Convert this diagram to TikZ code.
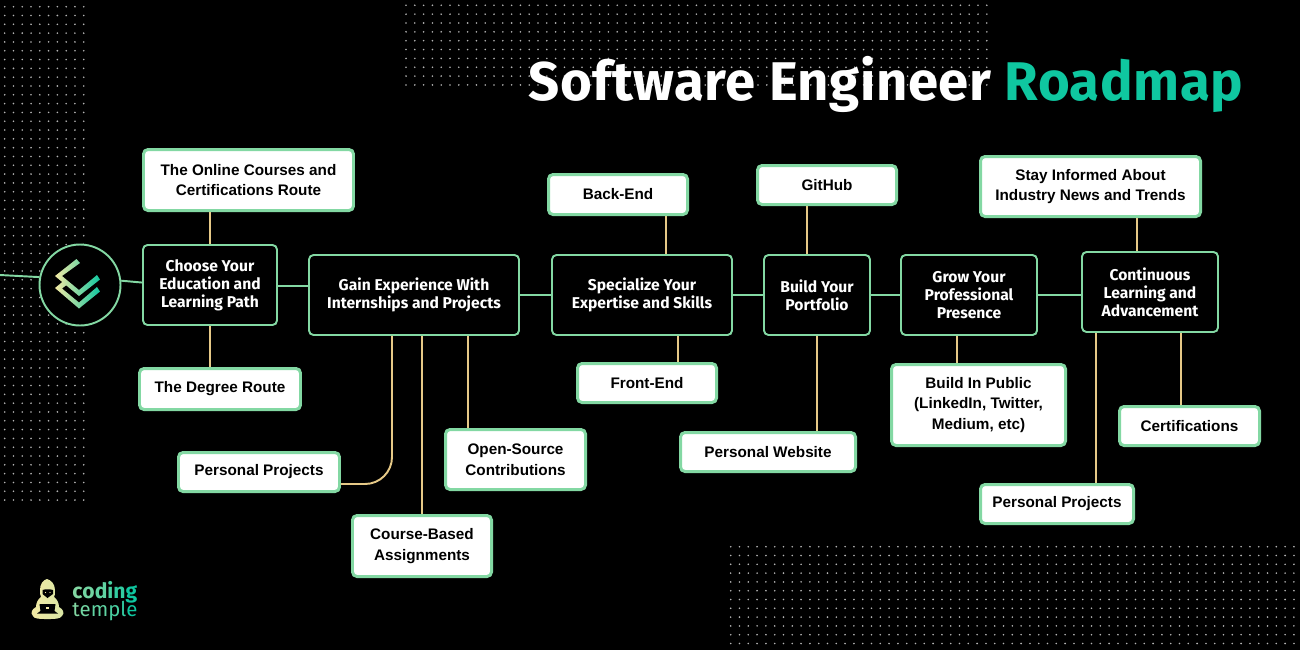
\documentclass[tikz,border=0pt]{standalone}
\usepackage{fontspec}
\setmainfont{Liberation Sans}
\newfontfamily\ubfont{Fira Sans}
\newfontfamily\titlefont[LetterSpace=1.0]{Fira Sans}
\definecolor{nodegreen}{HTML}{83D8A3}
\definecolor{linegold}{HTML}{E6C987}
\definecolor{roadteal}{HTML}{0FC7A0}
\definecolor{logoyel}{HTML}{F4EAA4}
\definecolor{griddot}{HTML}{B4B4B4}
\tikzset{
	whitebox/.style 2 args={draw=nodegreen,line width=1.7pt,fill=white,text=black,rounded corners=0.09cm,align=center,inner sep=0pt,font=\fontsize{8.7}{11.9}\selectfont\bfseries,minimum width=#1*0.02cm,minimum height=#2*0.02cm},
	darkbox/.style 2 args={draw=nodegreen,line width=1.1pt,fill=black,text=white,rounded corners=0.09cm,align=center,inner sep=0pt,font=\ubfont\fontsize{8.9}{10.2}\selectfont\bfseries,minimum width=#1*0.02cm,minimum height=#2*0.02cm},
	greenline/.style={draw=nodegreen,line width=1.1pt},
	goldline/.style={draw=linegold,line width=1.1pt},
	griddotfill/.style={fill=griddot}
}

\begin{document}
\begin{tikzpicture}[x=0.02cm,y=-0.02cm]
	\fill[black] (0,0) rectangle (1300,650);
	\useasboundingbox (0,0) rectangle (1300,650);

	\foreach \i in {0,...,9}
		\foreach \j in {0,...,56}
			\fill[griddotfill] ({4.7+8.78*\i},{6.7+8.81*\j}) circle (0.018cm);
	\foreach \i in {0,...,66}
		\foreach \j in {0,...,9}
			\fill[griddotfill] ({406+8.8*\i},{5.3+8.85*\j}) circle (0.018cm);
	\foreach \i in {0,...,64}
		\foreach \j in {0,...,11}
			\fill[griddotfill] ({730.7+8.8*\i},{546.7+8.8*\j}) circle (0.018cm);

	\node[anchor=base west,inner sep=0pt,white,font=\titlefont\fontsize{31}{33}\selectfont\bfseries] (title) at (528,100) {Software Engineer \textcolor{roadteal}{Roadmap}};

	\coordinate (start) at (0,275);
	\node[circle,draw=nodegreen,line width=1.1pt,fill=black,minimum size=1.62cm,inner sep=0pt] (core) at (80,285) {};
	\shade[left color=logoyel,right color=roadteal,middle color=nodegreen] (76.5,259) -- (55,276) -- (79,296) -- (100,279.5) -- (97,275) -- (79,290) -- (62,276) -- (80,263) -- cycle;
	\shade[left color=logoyel,right color=roadteal,middle color=nodegreen] (63.5,281) -- (55,288) -- (79,308.5) -- (100,291.5) -- (97,287) -- (79,302.5) -- (62,288.5) -- (66.5,285) -- cycle;

	\node[darkbox={134}{80}] (choose) at (210,285) {Choose Your\\Education and\\Learning Path};
	\node[darkbox={210}{80}] (gain) at (414,295) {Gain Experience With\\Internships and Projects};
	\node[darkbox={180}{80}] (spec) at (642,295) {Specialize Your\\Expertise and Skills};
	\node[darkbox={106}{80}] (port) at (817,295) {Build Your\\Portfolio};
	\node[darkbox={136}{80}] (grow) at (969,295) {Grow Your\\Professional\\Presence};
	\node[darkbox={136}{80}] (cont) at (1150,292) {Continuous\\Learning and\\Advancement};

	\node[whitebox={210}{61}] (online) at (248.5,180) {The Online Courses and\\Certifications Route};
	\node[whitebox={161}{41}] (degree) at (220,389) {The Degree Route};
	\node[whitebox={161}{39}] (proja) at (259,472) {Personal Projects};
	\node[whitebox={139}{61}] (course) at (422,546) {Course-Based\\Assignments};
	\node[whitebox={140}{60}] (open) at (515.5,459.5) {Open-Source\\Contributions};
	\node[whitebox={139}{40}] (back) at (618,194.5) {Back-End};
	\node[whitebox={139}{39}] (front) at (647,383) {Front-End};
	\node[whitebox={139}{39}] (github) at (827,185) {GitHub};
	\node[whitebox={175}{39}] (website) at (768,452) {Personal Website};
	\node[whitebox={174}{81}] (public) at (978.5,405) {Build In Public\\(LinkedIn, Twitter,\\Medium, etc)};
	\node[whitebox={220}{60}] (stay) at (1090.5,186.5) {Stay Informed About\\Industry News and Trends};
	\node[whitebox={140}{39}] (cert) at (1189.5,426) {Certifications};
	\node[whitebox={153}{39}] (projb) at (1057,504) {Personal Projects};

	\draw[greenline] (start) -- (core.169);
	\draw[greenline] (core.6) -- ([yshift=1.4pt]choose.west);
	\draw[greenline] ([yshift=-0.6pt]choose.east) -- ([yshift=-0.6pt]choose.east -| gain.west);
	\draw[greenline] (gain.east) -- (spec.west);
	\draw[greenline] (spec.east) -- (port.west);
	\draw[greenline] (port.east) -- (grow.west);
	\draw[greenline] (grow.east) -- (grow.east -| cont.west);

	\draw[goldline] (choose.north) -- (choose.north |- online.south);
	\draw[goldline] (choose.south) -- (choose.south |- degree.north);
	\draw[goldline,rounded corners=0.54cm] (392,0 |- gain.south) |- (proja.east |- 0,484);
	\draw[goldline] (course.north) -- (course.north |- gain.south);
	\draw[goldline] (468,0 |- gain.south) -- (468,0 |- open.north);
	\draw[goldline] (666,0 |- spec.north) -- (666,0 |- back.south);
	\draw[goldline] (678,0 |- spec.south) -- (678,0 |- front.north);
	\draw[goldline] (807,0 |- port.north) -- (807,0 |- github.south);
	\draw[goldline] (port.south) -- (port.south |- website.north);
	\draw[goldline] (957,0 |- grow.south) -- (957,0 |- public.north);
	\draw[goldline] (1137,0 |- cont.north) -- (1137,0 |- stay.south);
	\draw[goldline] (1096,0 |- cont.south) -- (1096,0 |- projb.north);
	\draw[goldline] (1181,0 |- cont.south) -- (1181,0 |- cert.north);

	\shade[left color=logoyel,right color=logoyel!75!nodegreen] (47,579) .. controls (51,580) and (55,584) .. (55,590) .. controls (55,594) and (55,596) .. (54,597) .. controls (57,599) and (59,603) .. (59,607) .. controls (63,609) and (65,613) .. (62,616) .. controls (60,619) and (55,619) .. (47.5,619) .. controls (40,619) and (34,619) .. (33,616) .. controls (30,613) and (32,609) .. (36,607) .. controls (36,603) and (38,599) .. (41,597) .. controls (40,595) and (40,593) .. (40,590) .. controls (40,584) and (43,580) .. (47,579) -- cycle;
	\fill[black] (42.5,590) .. controls (45,589) and (50,589) .. (53,590) -- (53,594) -- (47.5,598) -- (42.5,594) -- cycle;
	\fill[logoyel] (45.5,592.5) circle (0.014cm) (50,592.5) circle (0.014cm);
	\fill[black] (39.5,604) -- (55.5,604) -- (54.5,611) -- (58,613.5) -- (37,613.5) -- (40.5,611) -- cycle;
	\fill[logoyel] (46,606.5) rectangle (49,608.5);

	\node[anchor=base west,inner sep=0pt,font=\ubfont\fontsize{12}{13}\selectfont\bfseries] (coding) at (72,598) {\textcolor{nodegreen}{c}\textcolor{nodegreen!85!roadteal}{o}\textcolor{nodegreen!70!roadteal}{d}\textcolor{nodegreen!50!roadteal}{i}\textcolor{nodegreen!30!roadteal}{n}\textcolor{roadteal}{g}};
	\node[anchor=base west,inner sep=0pt,font=\ubfont\fontsize{11.6}{13}\selectfont] (temple) at (72,616) {\textcolor{nodegreen}{t}\textcolor{nodegreen!85!roadteal}{e}\textcolor{nodegreen!70!roadteal}{m}\textcolor{nodegreen!50!roadteal}{p}\textcolor{nodegreen!30!roadteal}{l}\textcolor{roadteal}{e}};
\end{tikzpicture}
\end{document}
